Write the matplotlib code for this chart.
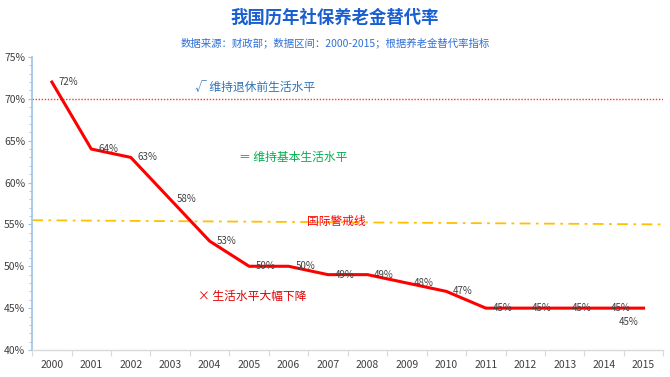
import numpy as np
import matplotlib
matplotlib.use("Agg")
import matplotlib.pyplot as plt
from matplotlib.ticker import MultipleLocator, FuncFormatter

plt.rcParams['font.family'] = ['Noto Sans CJK SC', 'DejaVu Sans']

# data
years = [str(y) for y in range(2000, 2016)]
rates = [72, 64, 63, 58, 53, 50, 50, 49, 49, 48, 47, 45, 45, 45, 45, 45]
retire_line = 70            # 维持退休前生活水平
warning_line = [55.5, 55.0]  # 国际警戒线, left -> right

fig = plt.figure(figsize=(6.7, 3.77), dpi=100)
ax = fig.add_axes([0.048, 0.0716, 0.942, 0.7774])

x = np.arange(len(years))
ax.plot(x, rates, color="#ff0000", lw=2.2, zorder=3)

# reference lines
ax.axhline(retire_line, color="#ff3333", lw=1.0, ls=(0, (1, 1.2)), zorder=2)
ax.plot([-0.5, 15.5], warning_line, color="#ffc000", lw=1.3,
        ls=(0, (6, 3, 1.5, 3)), zorder=2)

# data labels
for i, v in enumerate(rates):
    if i == len(rates) - 1:
        off = (-11, -10)
    else:
        off = (12, 0)
    ax.annotate(f"{v}%", (i, v), xytext=off, textcoords="offset points",
                ha="center", va="center", fontsize=7, color="#404040")

# annotations
ax.text(5.15, 71.3, "√ 维持退休前生活水平", color="#2e75b6", fontsize=8.5,
        ha="center", va="center")
ax.text(6.12, 63.05, "＝ 维持基本生活水平", color="#00b050", fontsize=8.5,
        ha="center", va="center")
ax.text(7.22, 55.3, "国际警戒线", color="#ff0000", fontsize=8.5,
        ha="center", va="center")
ax.text(5.08, 46.35, "× 生活水平大幅下降", color="#e00000", fontsize=8.5,
        ha="center", va="center")

# axes styling
ax.set_xlim(-0.5, 15.5)
ax.set_ylim(40, 75)
ax.set_xticks(x)
ax.set_xticklabels(years)
ax.xaxis.set_minor_locator(MultipleLocator(1, offset=0.5))
ax.tick_params(axis="x", which="major", length=0, labelsize=7.5,
               labelcolor="#404040", pad=7)
ax.tick_params(axis="x", which="minor", length=4, color="#d9d9d9", width=0.8)

ax.yaxis.set_major_locator(MultipleLocator(5))
ax.yaxis.set_minor_locator(MultipleLocator(1))
ax.yaxis.set_major_formatter(FuncFormatter(lambda v, p: f"{v:.0f}%"))
ax.tick_params(axis="y", which="major", length=3, color="#9dc3e6",
               labelsize=7.5, labelcolor="#404040", pad=2)
ax.tick_params(axis="y", which="minor", length=2, color="#9dc3e6")

for s in ["top", "right"]:
    ax.spines[s].set_visible(False)
ax.spines["left"].set_color("#9dc3e6")
ax.spines["left"].set_linewidth(1.2)
ax.spines["bottom"].set_color("#d9d9d9")
ax.spines["bottom"].set_linewidth(1.0)

# titles
fig.text(0.5, 0.952, "我国历年社保养老金替代率", ha="center", va="center",
         fontsize=12.5, fontweight="bold", color="#1a5fd1")
fig.text(0.5, 0.886, "数据来源：财政部；数据区间：2000-2015；根据养老金替代率指标",
         ha="center", va="center", fontsize=7.5, color="#2f6fd6")

fig.savefig("out.png", dpi=100)
